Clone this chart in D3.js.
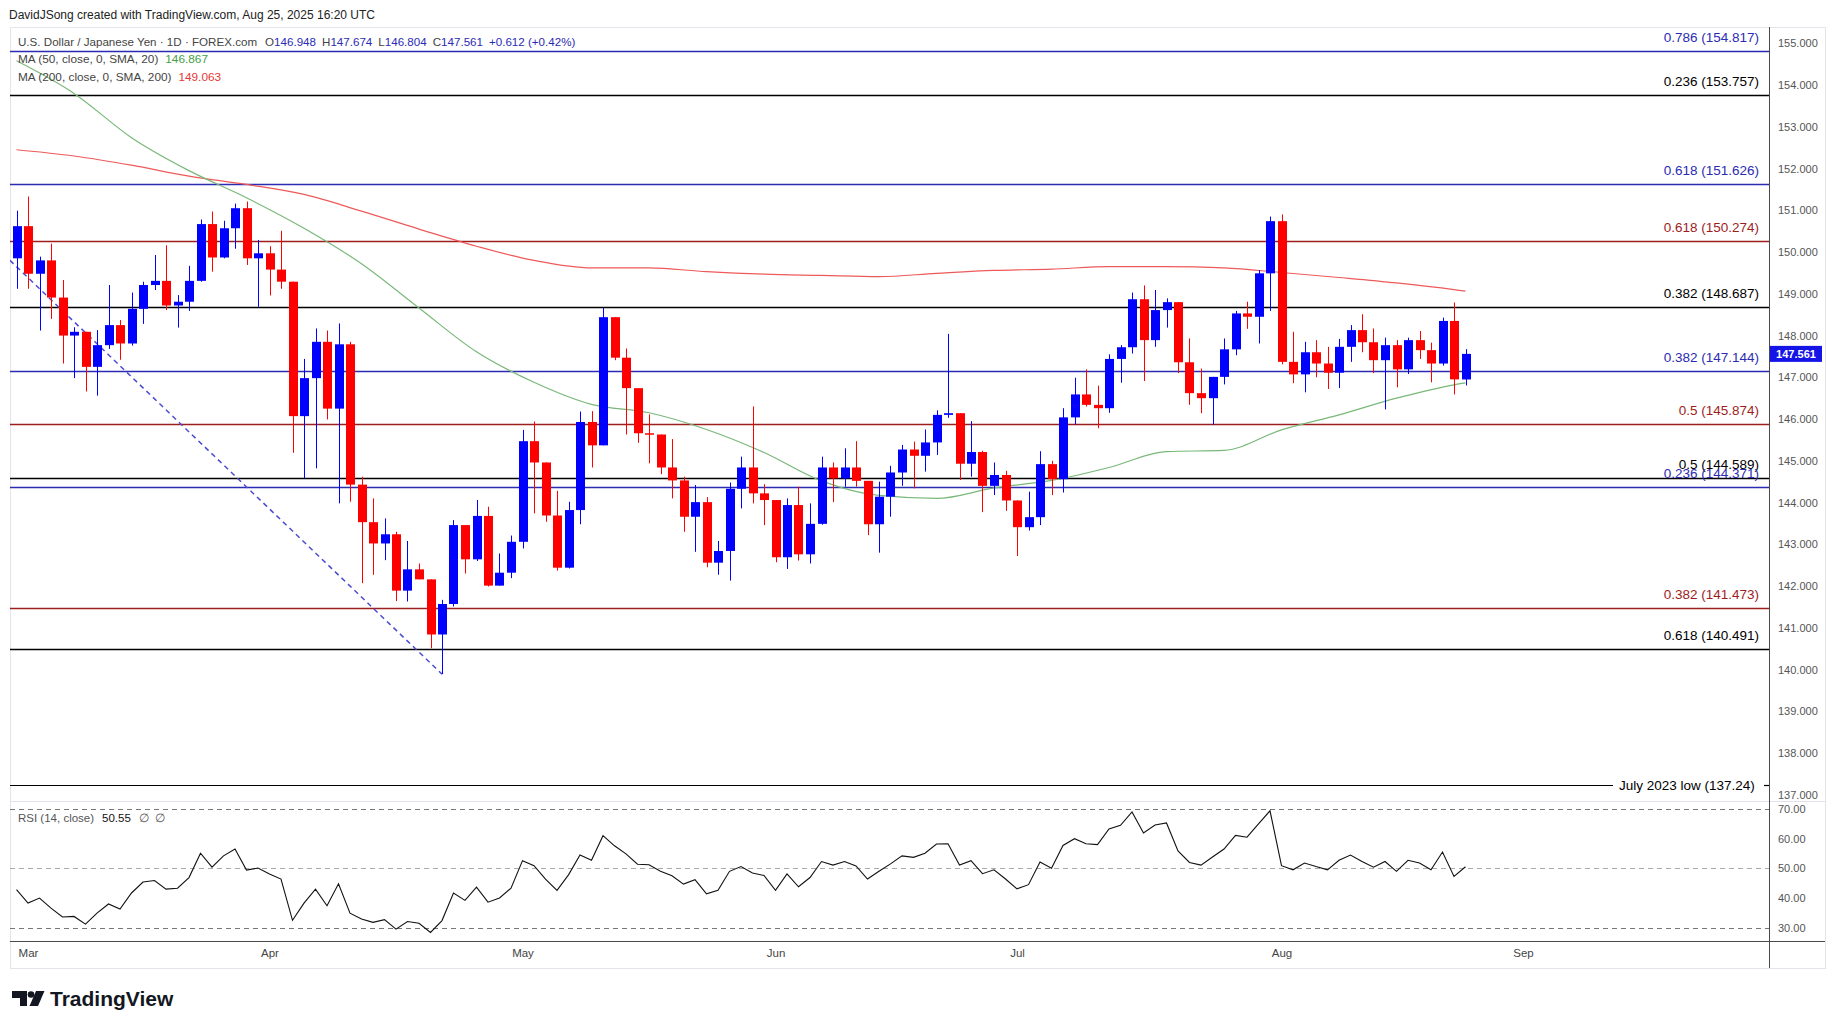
<!DOCTYPE html>
<html>
<head>
<meta charset="utf-8">
<script src="https://cdnjs.cloudflare.com/ajax/libs/d3/7.8.5/d3.min.js"></script>
<style>
  body { margin: 0; background: #fff; }
  svg text { font-family: "Liberation Sans", Arial, sans-serif; }
</style>
</head>
<body>
<script>
// USD/JPY daily, one bar per weekday from Fri 28 Feb 2025 to Mon 25 Aug 2025
var opens = [149.85,150.62,149.48,149.80,148.91,148.00,148.09,147.25,147.77,148.25,147.81,148.64,149.21,149.31,148.72,148.81,149.31,150.67,149.87,150.57,151.05,149.85,149.97,149.58,149.29,146.07,146.98,147.85,146.25,147.79,144.43,143.53,143.02,143.24,141.89,142.40,142.16,140.84,141.57,143.46,142.64,143.68,142.01,142.32,143.06,145.47,144.96,143.69,142.44,143.82,145.93,145.37,148.44,147.47,146.74,145.66,145.63,144.84,144.53,143.66,144.01,142.56,142.84,144.33,144.84,144.22,144.06,142.69,143.94,142.76,143.49,144.84,144.58,144.84,144.52,143.48,144.14,144.72,145.27,145.12,145.44,146.10,146.14,144.93,145.21,144.40,144.66,144.05,143.41,143.65,144.92,144.56,146.04,146.59,146.34,146.26,147.44,147.72,148.87,147.89,148.61,148.80,147.36,146.62,146.50,147.01,147.67,148.53,148.45,149.49,150.74,147.37,147.07,147.60,147.33,147.11,147.73,148.13,147.84,147.41,147.77,147.19,147.89,147.65,147.33,148.35,146.948];
var highs = [150.99,151.33,149.89,150.20,149.33,148.20,148.09,148.13,149.21,148.37,149.03,149.29,149.93,150.16,148.97,149.67,150.78,150.97,150.75,151.16,151.21,150.29,150.14,150.51,149.29,147.44,148.17,148.12,148.29,147.85,144.62,144.10,143.62,143.30,143.08,142.54,142.16,141.67,143.58,143.46,144.06,143.90,142.78,143.21,145.74,145.94,144.96,144.28,144.02,146.18,146.19,148.66,148.44,147.69,146.74,146.11,145.63,145.52,144.62,144.42,144.13,143.08,144.48,145.10,146.30,144.44,144.06,144.10,144.38,143.98,145.10,144.96,145.30,145.47,144.52,144.50,144.88,145.38,145.46,145.75,146.21,148.04,146.14,145.95,145.24,144.96,144.76,144.05,144.26,145.23,145.00,146.26,146.99,147.19,146.80,147.55,147.77,149.03,149.20,149.09,148.89,148.80,147.93,147.21,147.01,147.93,148.59,148.81,149.57,150.85,150.90,148.09,147.85,147.89,147.73,147.92,148.25,148.51,148.17,147.95,147.89,147.95,148.11,147.83,148.43,148.79,147.674];
var lows = [149.12,149.12,148.12,148.40,147.33,146.98,146.66,146.56,147.68,147.42,147.76,148.28,149.09,148.61,148.19,148.59,149.29,149.53,149.85,150.08,149.69,148.69,148.96,149.12,145.19,144.58,144.82,145.99,143.98,144.02,142.07,142.27,142.62,141.64,141.63,142.16,140.51,139.89,141.51,142.30,142.60,141.99,142.01,142.19,142.90,143.74,143.54,142.37,142.42,143.48,144.84,145.37,147.41,145.63,145.43,144.94,144.68,144.10,143.30,142.82,142.45,142.27,142.13,143.86,143.98,143.46,142.57,142.41,142.61,142.54,143.47,144.01,144.38,144.38,143.22,142.80,143.66,144.40,144.34,144.74,145.14,146.03,144.54,144.62,143.77,144.18,143.80,142.72,143.33,143.46,144.18,144.24,145.87,146.30,145.78,146.15,146.87,147.57,146.91,147.73,148.19,147.10,146.34,146.14,145.87,146.83,147.53,148.16,147.81,148.59,147.31,146.86,146.64,147.00,146.72,146.74,147.37,147.60,147.10,146.23,146.76,147.08,147.44,146.88,147.28,146.59,146.804];
var closes = [150.62,149.48,149.80,148.91,148.00,148.09,147.25,147.77,148.25,147.81,148.64,149.21,149.31,148.72,148.81,149.31,150.67,149.87,150.57,151.05,149.85,149.97,149.58,149.29,146.07,146.98,147.85,146.25,147.79,144.43,143.53,143.02,143.24,141.89,142.40,142.16,140.84,141.57,143.46,142.64,143.68,142.01,142.32,143.06,145.47,144.96,143.69,142.44,143.82,145.93,145.37,148.44,147.47,146.74,145.66,145.63,144.84,144.53,143.66,144.01,142.56,142.84,144.33,144.84,144.22,144.06,142.69,143.94,142.76,143.49,144.84,144.58,144.84,144.52,143.48,144.14,144.72,145.27,145.12,145.44,146.10,146.14,144.93,145.21,144.40,144.66,144.05,143.41,143.65,144.92,144.56,146.04,146.59,146.34,146.26,147.44,147.72,148.87,147.89,148.61,148.80,147.36,146.62,146.50,147.01,147.67,148.53,148.45,149.49,150.74,147.37,147.07,147.60,147.33,147.11,147.73,148.13,147.84,147.41,147.77,147.19,147.89,147.65,147.33,148.35,146.95,147.561];

// moving averages every 5 bars (bar index)
var maBars = [0,5,10,15,20,25,30,35,40,45,50,55,60,65,70,75,80,85,90,95,100,105,110,115,120,125,126];
var ma50 = [154.58,153.80,152.74,151.95,151.30,150.57,149.72,148.66,147.61,146.88,146.35,146.15,145.75,145.20,144.52,144.17,144.10,144.35,144.53,144.84,145.22,145.25,145.74,146.10,146.50,146.82,146.867];
var ma200 = [152.45,152.30,152.08,151.82,151.62,151.38,150.98,150.55,150.14,149.80,149.62,149.62,149.53,149.47,149.44,149.41,149.49,149.56,149.59,149.65,149.65,149.62,149.51,149.39,149.26,149.10,149.063];

var rsi = [42.8,38.3,40.0,36.6,33.6,33.8,31.2,34.9,38.0,36.3,41.7,45.4,45.9,43.0,43.3,46.9,55.1,50.4,54.2,56.5,49.4,50.1,48.1,46.4,32.5,38.3,43.0,37.4,44.8,34.9,32.9,31.8,32.7,29.5,32.1,31.5,28.4,32.4,41.7,39.2,43.7,38.6,40.0,43.3,52.6,50.9,46.4,42.6,47.8,54.5,52.7,61.0,57.6,54.9,51.4,51.2,49.0,47.5,44.7,46.2,41.4,42.6,49.0,50.6,48.4,47.6,42.6,48.1,43.8,46.9,52.3,51.1,52.3,50.8,46.4,49.0,51.5,54.2,53.7,55.1,58.2,58.3,51.1,52.6,48.2,49.5,46.4,43.1,44.5,52.1,50.0,57.7,60.0,58.3,58.0,63.3,64.5,69.0,61.9,64.6,65.3,55.9,52.0,51.1,53.8,56.5,61.1,60.5,65.0,69.4,50.9,49.5,51.8,50.6,49.5,52.7,54.5,52.3,50.4,52.3,49.0,52.7,51.8,49.5,55.5,47.3,50.55];

var fibLevels = [154.817,153.757,151.626,150.274,148.687,147.144,145.874,144.589,144.371,141.473,140.491];
var fibRatios = ["0.786","0.236","0.618","0.618","0.382","0.382","0.5","0.5","0.236","0.382","0.618"];
var fibTone = ["blue","black","blue","red","black","blue","red","black","blue","red","black"];
var julyLow = 137.24;
var trendBars = [-0.57, 37];
var trendPrices = [149.80, 139.89];

var priceTicks = d3.range(137, 156);
var rsiTicks = [30, 40, 50, 60, 70];
var rsiBands = [70, 50, 30];
var lastPrice = 147.561;

var W = 1835, H = 1029;
var pane = {left: 10, right: 1769, top: 27, bottom: 801, rsiBottom: 941, end: 968};
var toneColor = {blue: "#2b2bb3", red: "#9e1d1d", black: "#000"};

// weekday calendar for the bar index
var days = [];
var dd = new Date(Date.UTC(2025, 1, 28));
while (days.length < 132) {
  var wd = dd.getUTCDay();
  if (wd > 0 && wd < 6) days.push(new Date(dd));
  dd.setUTCDate(dd.getUTCDate() + 1);
}
var monthBars = d3.range(1, days.length).filter(function(k) {
  return days[k].getUTCMonth() !== days[k - 1].getUTCMonth();
});

var x = d3.scaleLinear().domain([0, 131]).range([16.5, 16.5 + 131 * 11.5]);
var y = d3.scaleLinear().domain([137, 155]).range([794.8, 43.3]);
var yR = d3.scaleLinear().domain([30, 70]).range([927.7, 809]);

var svg = d3.select("body").append("svg").attr("width", W).attr("height", H);

svg.append("defs").append("clipPath").attr("id", "mainclip")
  .append("rect").attr("x", pane.left).attr("y", pane.top)
  .attr("width", pane.right - pane.left).attr("height", pane.bottom - pane.top);
svg.select("defs").append("clipPath").attr("id", "rsiclip")
  .append("rect").attr("x", pane.left).attr("y", pane.bottom)
  .attr("width", pane.right - pane.left).attr("height", pane.rsiBottom - pane.bottom);

// frame
var frame = svg.append("g").attr("stroke-width", 1).attr("fill", "none");
frame.append("rect").attr("x", pane.left + 0.5).attr("y", pane.top + 0.5)
  .attr("width", 1825 - pane.left).attr("height", pane.end - pane.top).attr("stroke", "#e3e5ea");
frame.append("line").attr("x1", pane.left).attr("x2", 1825).attr("y1", pane.bottom + 0.5).attr("y2", pane.bottom + 0.5).attr("stroke", "#e0e3eb");
frame.append("line").attr("x1", pane.left).attr("x2", 1825).attr("y1", pane.rsiBottom + 0.5).attr("y2", pane.rsiBottom + 0.5).attr("stroke", "#4a4a4a");
frame.append("line").attr("x1", pane.right + 0.5).attr("x2", pane.right + 0.5).attr("y1", pane.top).attr("y2", pane.end).attr("stroke", "#4a4a4a");

var main = svg.append("g").attr("clip-path", "url(#mainclip)");

// fib levels
var fibs = fibLevels.map(function(v, i) { return {v: v, r: fibRatios[i], c: toneColor[fibTone[i]]}; });
main.selectAll(".fib").data(fibs).enter().append("line")
  .attr("x1", pane.left).attr("x2", pane.right)
  .attr("y1", function(d) { return Math.round(y(d.v)) + 0.5; })
  .attr("y2", function(d) { return Math.round(y(d.v)) + 0.5; })
  .attr("stroke", function(d) { return d.c; }).attr("stroke-width", 1.3);
svg.selectAll(".fiblab").data(fibs).enter().append("text")
  .attr("x", 1759).attr("y", function(d) { return y(d.v) - 9; })
  .attr("text-anchor", "end").attr("font-size", 13.5)
  .attr("fill", function(d) { return d.c; })
  .text(function(d) { return d.r + " (" + d.v.toFixed(3) + ")"; });

// July 2023 low marker
var jy = Math.round(y(julyLow)) + 0.5;
main.append("line").attr("x1", pane.left).attr("x2", 1613).attr("y1", jy).attr("y2", jy).attr("stroke", "#000").attr("stroke-width", 1.2);
main.append("line").attr("x1", 1764).attr("x2", pane.right).attr("y1", jy).attr("y2", jy).attr("stroke", "#000").attr("stroke-width", 1.2);
svg.append("text").attr("x", 1619).attr("y", jy).attr("dy", "0.35em").attr("font-size", 13.5).attr("fill", "#000")
  .text("July 2023 low (" + julyLow + ")");

// dashed trend line into the April low
main.append("line")
  .attr("x1", x(trendBars[0])).attr("y1", y(trendPrices[0]))
  .attr("x2", x(trendBars[1])).attr("y2", y(trendPrices[1]))
  .attr("stroke", "#4b4bd2").attr("stroke-width", 1.5).attr("stroke-dasharray", "5,4");

// moving averages
var maLine = function(vals) {
  return d3.line().curve(d3.curveMonotoneX)
    .x(function(d, i) { return x(maBars[i]); })
    .y(function(d) { return y(d); })(vals);
};
main.append("path").attr("d", maLine(ma200)).attr("fill", "none").attr("stroke", "#ee5a5a").attr("stroke-width", 1.2);
main.append("path").attr("d", maLine(ma50)).attr("fill", "none").attr("stroke", "#79b879").attr("stroke-width", 1.2);

// candles
var bars = opens.map(function(o, k) { return {k: k, o: o, h: highs[k], l: lows[k], c: closes[k]}; });
var up = "#0000ff", down = "#ff0000";
var cg = main.selectAll(".candle").data(bars).enter().append("g");
cg.append("line")
  .attr("x1", function(d) { return Math.round(x(d.k)) + 0.5; })
  .attr("x2", function(d) { return Math.round(x(d.k)) + 0.5; })
  .attr("y1", function(d) { return y(d.h); }).attr("y2", function(d) { return y(d.l); })
  .attr("stroke", function(d) { return d.c >= d.o ? up : down; }).attr("stroke-width", 1);
cg.append("rect")
  .attr("x", function(d) { return Math.round(x(d.k)) - 4; }).attr("width", 9)
  .attr("y", function(d) { return y(Math.max(d.o, d.c)); })
  .attr("height", function(d) { return Math.max(1.5, Math.abs(y(d.o) - y(d.c))); })
  .attr("fill", function(d) { return d.c >= d.o ? up : down; });

// price axis
var yAxis = d3.axisRight(y).tickValues(priceTicks).tickFormat(d3.format(".3f")).tickSize(0).tickPadding(9);
var ya = svg.append("g").attr("transform", "translate(" + pane.right + ",0)").call(yAxis);
ya.select(".domain").remove();
ya.selectAll("text").attr("font-size", 11).attr("fill", "#555").attr("font-family", "Liberation Sans, Arial, sans-serif");

// last price tag
svg.append("rect").attr("x", pane.right + 1).attr("y", y(lastPrice) - 8).attr("width", 52).attr("height", 16).attr("fill", "#1414e6");
svg.append("text").attr("x", pane.right + 27).attr("y", y(lastPrice)).attr("dy", "0.35em")
  .attr("text-anchor", "middle").attr("font-size", 11).attr("font-weight", "bold").attr("fill", "#fff")
  .text(lastPrice.toFixed(3));

// RSI pane
var rg = svg.append("g").attr("clip-path", "url(#rsiclip)");
rg.selectAll(".band").data(rsiBands).enter().append("line")
  .attr("x1", pane.left).attr("x2", pane.right)
  .attr("y1", function(d) { return Math.round(yR(d)) + 0.5; })
  .attr("y2", function(d) { return Math.round(yR(d)) + 0.5; })
  .attr("stroke", function(d) { return d === 50 ? "#aaa" : "#777"; })
  .attr("stroke-dasharray", "5,4");
rg.append("path")
  .attr("d", d3.line().x(function(d, k) { return x(k); }).y(function(d) { return yR(d); })(rsi))
  .attr("fill", "none").attr("stroke", "#111").attr("stroke-width", 1.1);

var rAxis = d3.axisRight(yR).tickValues(rsiTicks).tickFormat(d3.format(".2f")).tickSize(0).tickPadding(9);
var ra = svg.append("g").attr("transform", "translate(" + pane.right + ",0)").call(rAxis);
ra.select(".domain").remove();
ra.selectAll("text").attr("font-size", 11).attr("fill", "#555").attr("font-family", "Liberation Sans, Arial, sans-serif");

var rl = svg.append("text").attr("x", 18).attr("y", 822).attr("font-size", 11.5).attr("fill", "#555");
rl.append("tspan").text("RSI (14, close)");
rl.append("tspan").attr("dx", 8).attr("fill", "#111").text(rsi[rsi.length - 1].toFixed(2));
rl.append("tspan").attr("dx", 8).text("\u2205");
rl.append("tspan").attr("dx", 6).text("\u2205");

// month axis
var xAxis = d3.axisBottom(x).tickValues(monthBars)
  .tickFormat(function(k) { return d3.utcFormat("%b")(days[k]); }).tickSize(0).tickPadding(8);
var xa = svg.append("g").attr("transform", "translate(0," + pane.rsiBottom + ")").call(xAxis);
xa.select(".domain").remove();
xa.selectAll("text").attr("font-size", 11.5).attr("fill", "#444").attr("font-family", "Liberation Sans, Arial, sans-serif");

// header and legend
svg.append("text").attr("x", 9).attr("y", 19).attr("font-size", 12).attr("fill", "#222")
  .text("DavidJSong created with TradingView.com, Aug 25, 2025 16:20 UTC");

var blueV = "#2a2ab5";
var lg = svg.append("text").attr("x", 18).attr("y", 46).attr("font-size", 11.6).attr("fill", "#444");
lg.append("tspan").text("U.S. Dollar / Japanese Yen \u00b7 1D \u00b7 FOREX.com");
[["O", "146.948"], ["H", "147.674"], ["L", "146.804"], ["C", "147.561"]].forEach(function(p, i) {
  lg.append("tspan").attr("dx", i === 0 ? 8 : 6).text(p[0]);
  lg.append("tspan").attr("fill", blueV).text(p[1]);
});
lg.append("tspan").attr("dx", 6).attr("fill", blueV).text("+0.612 (+0.42%)");

var m1 = svg.append("text").attr("x", 18).attr("y", 63).attr("font-size", 11.8).attr("fill", "#444");
m1.append("tspan").text("MA (50, close, 0, SMA, 20)");
m1.append("tspan").attr("dx", 7).attr("fill", "#43a047").text(ma50[ma50.length - 1].toFixed(3));
var m2 = svg.append("text").attr("x", 18).attr("y", 81).attr("font-size", 11.8).attr("fill", "#444");
m2.append("tspan").text("MA (200, close, 0, SMA, 200)");
m2.append("tspan").attr("dx", 7).attr("fill", "#e53935").text(ma200[ma200.length - 1].toFixed(3));

// TradingView logo
var logo = svg.append("g").attr("fill", "#131722");
logo.append("path").attr("d", "M12,991 H27 V1006 H20 V998 H12 Z");
logo.append("circle").attr("cx", 31).attr("cy", 994.5).attr("r", 3.3);
logo.append("path").attr("d", "M36,991 H44.5 L38,1006 H29.5 Z");
svg.append("text").attr("x", 50).attr("y", 1006).attr("font-size", 21).attr("font-weight", "bold")
  .attr("fill", "#131722").attr("font-family", "Roboto, Arial, sans-serif").text("TradingView");
</script>
</body>
</html>
